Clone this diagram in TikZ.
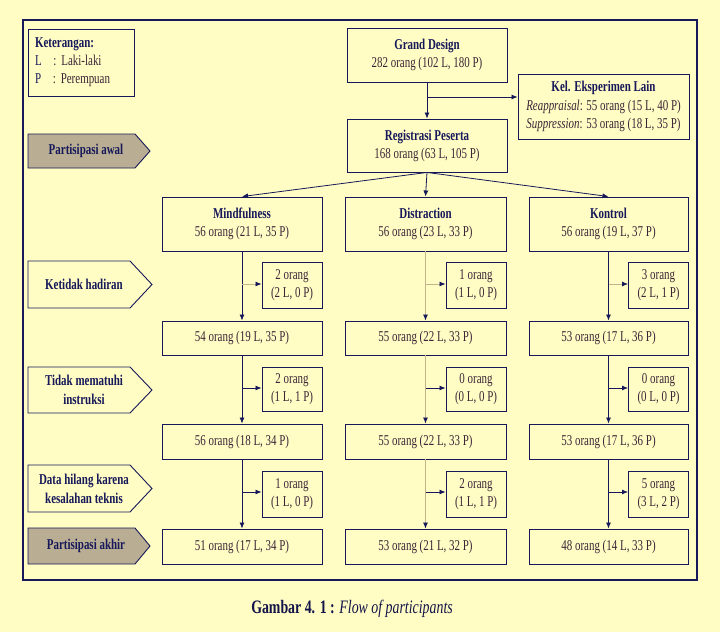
\documentclass[tikz,border=0pt]{standalone}
\usepackage{fontspec}
\setmainfont{Liberation Serif}[FakeStretch=0.73]
\usetikzlibrary{arrows.meta}
\definecolor{bg}{HTML}{FFFDC4}
\definecolor{navy}{HTML}{16185A}
\definecolor{txt}{HTML}{3A2436}
\definecolor{tanline}{HTML}{C4B48E}
\definecolor{grayfill}{HTML}{B9AE93}
\newcommand{\hd}[1]{\textcolor{navy}{\textbf{#1}}}
\begin{document}
\begin{tikzpicture}[x=1pt,y=-1pt,
  box/.style={draw=navy, line width=0.9pt, fill=bg, minimum width=160pt, inner sep=0pt,
    align=center, font=\fontsize{15}{18}\selectfont, text=txt},
  sidebox/.style={box, minimum width=60pt, minimum height=46pt},
  lab/.style={draw=navy, line width=0.9pt},
  labtext/.style={align=center, font=\fontsize{15}{19}\selectfont\bfseries, text=navy, inner sep=0pt},
  arr/.style={draw=navy, line width=0.8pt, -{Latex[length=6pt,width=5pt]}},
  arrlight/.style={draw=tanline, line width=0.8pt, -{Latex[length=6pt,width=5pt,color=navy]}},
  ]
\fill[bg] (0,0) rectangle (720,632);
\useasboundingbox (0,0) rectangle (720,632);

% outer frame
\draw[navy, line width=2.6pt] (23,20) rectangle (697,580);

% legend
\node[box, minimum width=106pt, minimum height=67pt, align=left, text width=92pt,
  font=\fontsize{15}{18}\selectfont] (legend) at (81,62.5)
  {\hd{Keterangan:}\\\textcolor{navy}{L}\enspace\;: Laki-laki\\\textcolor{navy}{P}\enspace\;: Perempuan};

% top boxes
\node[box, minimum height=54pt] (grand) at (427,55) {\hd{Grand Design}\\282 orang (102 L, 180 P)};
\node[box, minimum width=171pt, minimum height=65pt, font=\fontsize{15}{18.5}\selectfont] (kel) at (603.5,106.5)
  {\hd{Kel. Eksperimen Lain}\\\textit{Reappraisal}: 55 orang (15 L, 40 P)\\\textit{Suppression}: 53 orang (18 L, 35 P)};
\node[box, minimum height=53pt] (reg) at (427,145.5) {\hd{Registrasi Peserta}\\168 orang (63 L, 105 P)};

% column heads
\node[box, minimum height=54pt] (m1) at (242,224) {\hd{Mindfulness}\\56 orang (21 L, 35 P)};
\node[box, minimum height=54pt, minimum width=161pt] (d1) at (425.5,224) {\hd{Distraction}\\56 orang (23 L, 33 P)};
\node[box, minimum height=54pt, minimum width=159pt] (k1) at (608.5,224) {\hd{Kontrol}\\56 orang (19 L, 37 P)};

% row 2
\node[box, minimum height=34pt] (m2) at (242,338) {54 orang (19 L, 35 P)};
\node[box, minimum height=34pt, minimum width=161pt] (d2) at (425.5,338) {55 orang (22 L, 33 P)};
\node[box, minimum height=34pt, minimum width=159pt] (k2) at (608.5,338) {53 orang (17 L, 36 P)};
% row 3
\node[box, minimum height=35pt] (m3) at (242,441.5) {56 orang (18 L, 34 P)};
\node[box, minimum height=35pt, minimum width=161pt] (d3) at (425.5,441.5) {55 orang (22 L, 33 P)};
\node[box, minimum height=35pt, minimum width=159pt] (k3) at (608.5,441.5) {53 orang (17 L, 36 P)};
% row 4
\node[box, minimum height=35pt] (m4) at (242,546.5) {51 orang (17 L, 34 P)};
\node[box, minimum height=35pt, minimum width=161pt] (d4) at (425.5,546.5) {53 orang (21 L, 32 P)};
\node[box, minimum height=35pt, minimum width=159pt] (k4) at (608.5,546.5) {48 orang (14 L, 33 P)};

% side boxes
\node[sidebox] (ms1) at (292,285) {2 orang\\(2 L, 0 P)};
\node[sidebox] (ds1) at (476,285) {1 orang\\(1 L, 0 P)};
\node[sidebox] (ks1) at (658.5,285) {3 orang\\(2 L, 1 P)};
\node[sidebox, minimum height=44pt] (ms2) at (292,389) {2 orang\\(1 L, 1 P)};
\node[sidebox, minimum height=44pt] (ds2) at (476,389) {0 orang\\(0 L, 0 P)};
\node[sidebox, minimum height=44pt] (ks2) at (658.5,389) {0 orang\\(0 L, 0 P)};
\node[sidebox] (ms3) at (292,494) {1 orang\\(1 L, 0 P)};
\node[sidebox] (ds3) at (476,494) {2 orang\\(1 L, 1 P)};
\node[sidebox] (ks3) at (658.5,494) {5 orang\\(3 L, 2 P)};

% left labels
\draw[lab, fill=grayfill] (28,134) -- (135,134) -- (150,151) -- (135,168) -- (28,168) -- cycle;
\node[labtext] (la1) at (86,151) {Partisipasi awal};
\draw[lab, fill=bg] (28,261) -- (130,261) -- (152,284.5) -- (130,308) -- (28,308) -- cycle;
\node[labtext] (la2) at (84,284.5) {Ketidak hadiran};
\draw[lab, fill=bg] (28,367) -- (130,367) -- (152,390) -- (130,413) -- (28,413) -- cycle;
\node[labtext] (la3) at (84,390) {Tidak mematuhi\\instruksi};
\draw[lab, fill=bg] (28,465) -- (130,465) -- (152,488.5) -- (130,512) -- (28,512) -- cycle;
\node[labtext] (la4) at (84,488.5) {Data hilang karena\\kesalahan teknis};
\draw[lab, fill=grayfill] (28,528) -- (135,528) -- (150,546) -- (135,564) -- (28,564) -- cycle;
\node[labtext] (la5) at (86,546) {Partisipasi akhir};

% connectors top
\draw[arr] (grand.south) -- (reg.north);
\coordinate (gb) at (427,97);
\draw[arr] (gb) -- (gb -| kel.west);
\draw[arr] (reg.south) -- (m1.north);
\draw[arr] (reg.south) -- (d1.north);
\draw[arr] (reg.south) -- (k1.north);

% column connectors
\draw[arr] (m1.south) -- (m2.north);
\draw[arr] (m2.south) -- (m3.north);
\draw[arr] (m3.south) -- (m4.north);
\draw[arrlight] (d1.south) -- (d2.north);
\draw[arrlight] (d2.south) -- (d3.north);
\draw[arrlight] (d3.south) -- (d4.north);
\draw[arr] (k1.south) -- (k2.north);
\draw[arr] (k2.south) -- (k3.north);
\draw[arr] (k3.south) -- (k4.north);

% branches
\coordinate (mb1) at (242,284); \coordinate (mb2) at (242,388); \coordinate (mb3) at (242,492);
\coordinate (db1) at (425.5,284); \coordinate (db2) at (425.5,388); \coordinate (db3) at (425.5,492);
\coordinate (kb1) at (608.5,284); \coordinate (kb2) at (608.5,388); \coordinate (kb3) at (608.5,492);
\draw[arrlight] (mb1) -- (mb1 -| ms1.west);
\draw[arr] (mb2) -- (mb2 -| ms2.west);
\draw[arr] (mb3) -- (mb3 -| ms3.west);
\draw[arrlight] (db1) -- (db1 -| ds1.west);
\draw[arr] (db2) -- (db2 -| ds2.west);
\draw[arr] (db3) -- (db3 -| ds3.west);
\draw[arrlight] (kb1) -- (kb1 -| ks1.west);
\draw[arr] (kb2) -- (kb2 -| ks2.west);
\draw[arr] (kb3) -- (kb3 -| ks3.west);

% caption
\node[font=\fontsize{19}{21}\selectfont, text=navy!80!black, inner sep=0pt] (cap) at (352,609)
  {\textbf{Gambar 4. 1 :} \textit{Flow of participants}};
\end{tikzpicture}
\end{document}
